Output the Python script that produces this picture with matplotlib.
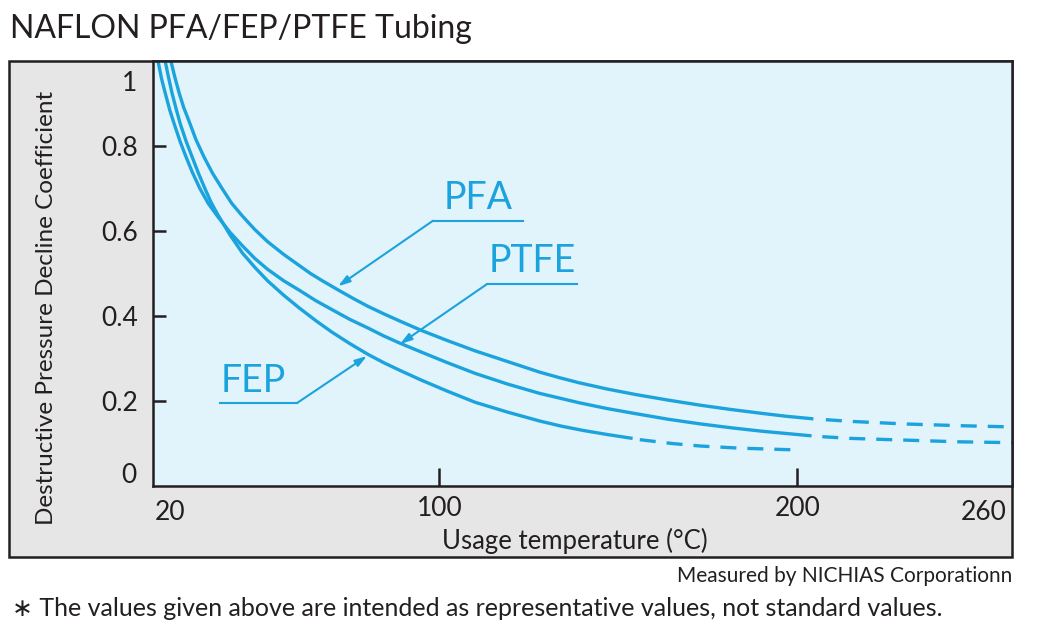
import numpy as np
import matplotlib.pyplot as plt
from matplotlib.patches import Rectangle

plt.rcParams['font.family'] = ['Lato', 'DejaVu Sans']

# temperatura [°C] i współczynnik
pfa_t = [24.6, 25.0, 26.1, 27.3, 28.6, 30.0, 32.0, 34.2, 36.7, 39.3, 42, 45, 48.5, 52, 56.5, 61, 64, 67.5,
         72, 76, 80, 84.5, 89, 95, 102, 110, 119, 128, 133.5, 139, 147, 155, 164, 173, 181.5, 190, 197, 204.5]
pfa_v = [1.02, 1.0, 0.962, 0.925, 0.89, 0.86, 0.815, 0.775, 0.735, 0.70, 0.665, 0.635, 0.603, 0.575, 0.545,
         0.518, 0.50, 0.482, 0.46, 0.441, 0.423, 0.405, 0.388, 0.366, 0.343, 0.318, 0.293, 0.268, 0.255, 0.243,
         0.228, 0.215, 0.202, 0.19, 0.18, 0.171, 0.164, 0.158]
pfa_dash_t = [208, 215, 230, 245, 260]
pfa_dash_v = [0.156, 0.152, 0.146, 0.142, 0.139]

ptfe_t = [21.0, 21.4, 22.4, 23.4, 24.7, 26.0, 27.6, 29.2, 31.0, 33.1, 35.5, 38, 41.5, 45, 48.5, 52, 56.5, 61,
          65.5, 70, 75, 80, 84.5, 89, 95, 102, 110, 119, 128, 139, 147, 155, 164, 173, 181.5, 190, 197, 204]
ptfe_v = [1.02, 1.0, 0.958, 0.925, 0.884, 0.85, 0.81, 0.775, 0.738, 0.70, 0.664, 0.635, 0.597, 0.565, 0.535,
          0.51, 0.483, 0.46, 0.436, 0.415, 0.392, 0.372, 0.353, 0.336, 0.315, 0.291, 0.265, 0.24, 0.218, 0.196,
          0.182, 0.17, 0.157, 0.146, 0.137, 0.129, 0.1235, 0.118]
ptfe_dash_t = [207, 215, 230, 245, 260]
ptfe_dash_v = [0.116, 0.112, 0.108, 0.104, 0.102]

fep_t = [23.0, 23.4, 24.3, 25.3, 26.5, 27.7, 29.3, 30.9, 32.7, 34.5, 36.2, 38, 41.5, 45, 48.5, 52, 56.5, 61,
         65.5, 70, 75, 80, 84.5, 89, 95, 102, 110, 119, 128, 134, 140, 147, 154]
fep_v = [1.02, 1.0, 0.963, 0.925, 0.886, 0.85, 0.81, 0.775, 0.736, 0.70, 0.668, 0.64, 0.591, 0.548, 0.514,
         0.483, 0.449, 0.418, 0.389, 0.362, 0.335, 0.31, 0.29, 0.272, 0.249, 0.224, 0.197, 0.174, 0.153, 0.141,
         0.131, 0.121, 0.112]
fep_dash_t = [156, 165, 173, 184, 199.4]
fep_dash_v = [0.109, 0.10, 0.094, 0.089, 0.085]

blue = '#1ba3dd'
dark = '#231f20'

W, H = 1042, 632
fig = plt.figure(figsize=(W / 100, H / 100), dpi=100)

# szara ramka wokół wykresu
fig.patches.append(Rectangle((9 / W, 1 - 557 / H), 1003 / W, 496 / H, transform=fig.transFigure,
                             facecolor='#e6e6e6', edgecolor=dark, linewidth=1.8, zorder=-10))

ax = fig.add_axes([153 / W, 1 - 486 / H, 859 / W, 425 / H])
ax.set_facecolor('#e1f3fb')
for s in ax.spines.values():
    s.set_linewidth(1.8)
    s.set_color(dark)

lw = 2.4
ax.plot(pfa_t, pfa_v, color=blue, lw=lw, solid_capstyle='butt')
ax.plot(ptfe_t, ptfe_v, color=blue, lw=lw, solid_capstyle='butt')
ax.plot(fep_t, fep_v, color=blue, lw=lw, solid_capstyle='butt')
for t, v in [(pfa_dash_t, pfa_dash_v), (ptfe_dash_t, ptfe_dash_v), (fep_dash_t, fep_dash_v)]:
    ax.plot(t, v, color=blue, lw=lw, dashes=(4.8, 3.3), dash_capstyle='butt')

ax.set_xlim(20, 260)
ax.set_ylim(0, 1)

fs = 19
ax.set_xticks([100, 200])
ax.set_yticks([0.2, 0.4, 0.6, 0.8])
ax.set_yticklabels(['0.2', '0.4', '0.6', '0.8'])
ax.tick_params(axis='x', direction='in', length=13, width=1.8, color=dark, pad=7, labelsize=fs, labelcolor=dark)
ax.tick_params(axis='y', direction='in', length=9.4, width=1.8, color=dark, pad=11, labelsize=fs, labelcolor=dark)

# etykiety skrajne
ax.text(-16 / 859, 0.948, '1', transform=ax.get_yaxis_transform(), ha='right', va='center', fontsize=fs, color=dark)
ax.text(-16 / 859, 0.007, '0', transform=ax.get_yaxis_transform(), ha='right', va='baseline', fontsize=fs, color=dark)
ax.text(20.5, -14 / 425, '20', transform=ax.get_xaxis_transform(), ha='left', va='top', fontsize=fs, color=dark)
ax.text(258.5, -14 / 425, '260', transform=ax.get_xaxis_transform(), ha='right', va='top', fontsize=fs, color=dark)

ax.text(0.491, -0.13, 'Usage temperature (°C)', transform=ax.transAxes, ha='center', va='center', fontsize=18.5, color=dark)
fig.text(47 / W, 1 - 308 / H, 'Destructive Pressure Decline Coefficient', rotation=90,
         ha='center', va='center', fontsize=17.5, color=dark)

# opisy krzywych ze strzałkami
labels = [('PFA', (71.7, 0.47), (98.2, 123.4, 0.624), (110.8, 0.678), 'left'),
          ('PTFE', (89.0, 0.334), (113.3, 138.4, 0.475), (126.1, 0.529), 'left'),
          ('FEP', (79.8, 0.306), (38.7, 60.2, 0.195), (47.9, 0.247), 'right')]
for name, tip, (x0, x1, yl), (tx, ty), side in labels:
    ax.plot([x0, x1], [yl, yl], color=blue, lw=1.5)
    start = (x0, yl) if side == 'left' else (x1, yl)
    ax.annotate('', xy=tip, xytext=start,
                arrowprops=dict(arrowstyle='-|>,head_length=0.7,head_width=0.22', color=blue, lw=1.5,
                                shrinkA=0, shrinkB=0))
    ax.text(tx, ty, name, ha='center', va='center', fontsize=27, color=blue)

fig.text(10 / W, 1 - 38 / H, 'NAFLON PFA/FEP/PTFE Tubing', ha='left', va='baseline', fontsize=23, color=dark)
fig.text(1012 / W, 1 - 576 / H, 'Measured by NICHIAS Corporationn', ha='right', va='center', fontsize=15, color=dark)
fig.text(12 / W, 1 - 608 / H, '∗ The values given above are intended as representative values, not standard values.',
         ha='left', va='center', fontsize=18, color=dark)

fig.savefig('out.png', dpi=100)
